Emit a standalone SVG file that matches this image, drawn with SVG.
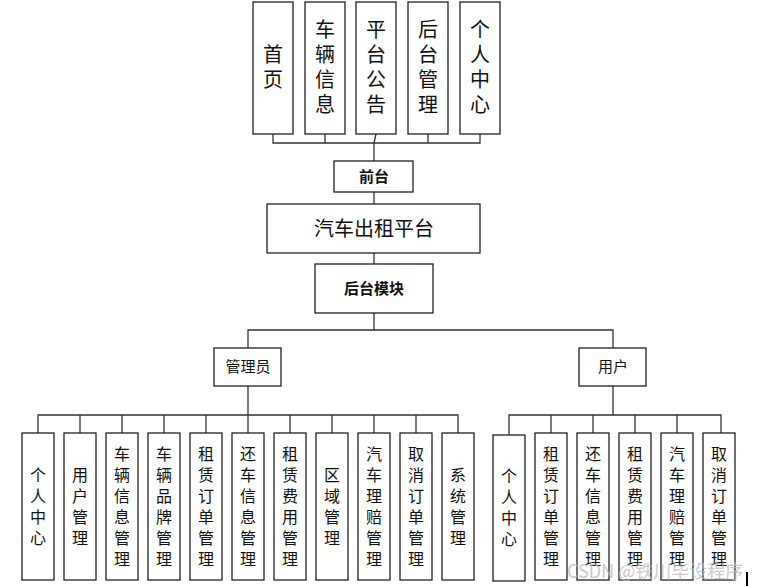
<svg xmlns="http://www.w3.org/2000/svg" width="775" height="586" viewBox="0 0 775 586">
<style>
.b{fill:#fff;stroke:#222;stroke-width:1.3}
.t{font-family:"Noto Sans CJK SC","Liberation Sans",sans-serif;fill:#111;text-anchor:middle}
.v{font-size:20px}
.s{font-size:16px}
.m{font-size:15px}
.c line,.c polyline{stroke:#333;stroke-width:1.3;fill:none}
</style>
<g class="c">
<polyline points="273,134 273,143 480,143 480,134"/>
<line x1="325" y1="134" x2="325" y2="143"/><line x1="376" y1="134" x2="374" y2="143"/><line x1="428" y1="134" x2="428" y2="143"/>
<line x1="374" y1="143" x2="374" y2="161" stroke-width="2"/>
<line x1="374" y1="192" x2="374" y2="204"/>
<line x1="374" y1="253" x2="374" y2="264"/>
<line x1="374" y1="313" x2="374" y2="330"/>
<polyline points="248,348 248,330 613,330 613,348"/>
<line x1="248" y1="386" x2="248" y2="415" stroke-width="2"/>
<polyline points="38,433 38,415 458,415 458,433"/>
<line x1="80" y1="415" x2="80" y2="433"/><line x1="122" y1="415" x2="122" y2="433"/><line x1="164" y1="415" x2="164" y2="433"/><line x1="206" y1="415" x2="206" y2="433"/><line x1="248" y1="415" x2="248" y2="433"/><line x1="290" y1="415" x2="290" y2="433"/><line x1="332" y1="415" x2="332" y2="433"/><line x1="374" y1="415" x2="374" y2="433"/><line x1="416" y1="415" x2="416" y2="433"/>
<line x1="613" y1="386" x2="613" y2="415" stroke-width="2"/>
<polyline points="509,435 509,415 721,415 721,433"/>
<line x1="551" y1="415" x2="551" y2="433"/><line x1="593" y1="415" x2="593" y2="433"/><line x1="635" y1="415" x2="635" y2="433"/><line x1="677" y1="415" x2="677" y2="433"/>
</g>
<g id="n-home"><rect class="b" x="253" y="2" width="40" height="132"/><text class="t v" x="273" y="62">首</text><text class="t v" x="273" y="87">页</text></g>
<g id="n-car"><rect class="b" x="305" y="2" width="40" height="132"/><text class="t v" x="325" y="37">车</text><text class="t v" x="325" y="62">辆</text><text class="t v" x="325" y="87">信</text><text class="t v" x="325" y="112">息</text></g>
<g id="n-notice"><rect class="b" x="356" y="2" width="40" height="132"/><text class="t v" x="376" y="37">平</text><text class="t v" x="376" y="62">台</text><text class="t v" x="376" y="87">公</text><text class="t v" x="376" y="112">告</text></g>
<g id="n-admin"><rect class="b" x="408" y="2" width="40" height="132"/><text class="t v" x="428" y="37">后</text><text class="t v" x="428" y="62">台</text><text class="t v" x="428" y="87">管</text><text class="t v" x="428" y="112">理</text></g>
<g id="n-center"><rect class="b" x="460" y="2" width="40" height="132"/><text class="t v" x="480" y="37">个</text><text class="t v" x="480" y="62">人</text><text class="t v" x="480" y="87">中</text><text class="t v" x="480" y="112">心</text></g>
<g id="n-front"><rect class="b" x="334" y="161" width="79" height="31"/><text class="t m" x="374" y="182" font-weight="bold">前台</text></g>
<g id="n-platform"><rect class="b" x="267" y="204" width="213" height="49"/><text class="t v" x="374" y="236">汽车出租平台</text></g>
<g id="n-backend"><rect class="b" x="315" y="264" width="118" height="49"/><text class="t m" x="374" y="294" font-weight="bold">后台模块</text></g>
<g id="n-mgr"><rect class="b" x="214" y="348" width="67" height="38"/><text class="t m" x="248" y="372">管理员</text></g>
<g id="n-user"><rect class="b" x="579" y="348" width="67" height="38"/><text class="t m" x="613" y="372">用户</text></g>
<g id="a1"><rect class="b" x="22" y="433" width="32" height="147"/><text class="t s" x="38" y="481">个</text><text class="t s" x="38" y="502">人</text><text class="t s" x="38" y="523">中</text><text class="t s" x="38" y="544">心</text></g>
<g id="a2"><rect class="b" x="64" y="433" width="32" height="147"/><text class="t s" x="80" y="481">用</text><text class="t s" x="80" y="502">户</text><text class="t s" x="80" y="523">管</text><text class="t s" x="80" y="544">理</text></g>
<g id="a3"><rect class="b" x="106" y="433" width="32" height="147"/><text class="t s" x="122" y="460">车</text><text class="t s" x="122" y="481">辆</text><text class="t s" x="122" y="502">信</text><text class="t s" x="122" y="523">息</text><text class="t s" x="122" y="544">管</text><text class="t s" x="122" y="565">理</text></g>
<g id="a4"><rect class="b" x="148" y="433" width="32" height="147"/><text class="t s" x="164" y="460">车</text><text class="t s" x="164" y="481">辆</text><text class="t s" x="164" y="502">品</text><text class="t s" x="164" y="523">牌</text><text class="t s" x="164" y="544">管</text><text class="t s" x="164" y="565">理</text></g>
<g id="a5"><rect class="b" x="190" y="433" width="32" height="147"/><text class="t s" x="206" y="460">租</text><text class="t s" x="206" y="481">赁</text><text class="t s" x="206" y="502">订</text><text class="t s" x="206" y="523">单</text><text class="t s" x="206" y="544">管</text><text class="t s" x="206" y="565">理</text></g>
<g id="a6"><rect class="b" x="232" y="433" width="32" height="147"/><text class="t s" x="248" y="460">还</text><text class="t s" x="248" y="481">车</text><text class="t s" x="248" y="502">信</text><text class="t s" x="248" y="523">息</text><text class="t s" x="248" y="544">管</text><text class="t s" x="248" y="565">理</text></g>
<g id="a7"><rect class="b" x="274" y="433" width="32" height="147"/><text class="t s" x="290" y="460">租</text><text class="t s" x="290" y="481">赁</text><text class="t s" x="290" y="502">费</text><text class="t s" x="290" y="523">用</text><text class="t s" x="290" y="544">管</text><text class="t s" x="290" y="565">理</text></g>
<g id="a8"><rect class="b" x="316" y="433" width="32" height="147"/><text class="t s" x="332" y="481">区</text><text class="t s" x="332" y="502">域</text><text class="t s" x="332" y="523">管</text><text class="t s" x="332" y="544">理</text></g>
<g id="a9"><rect class="b" x="358" y="433" width="32" height="147"/><text class="t s" x="374" y="460">汽</text><text class="t s" x="374" y="481">车</text><text class="t s" x="374" y="502">理</text><text class="t s" x="374" y="523">赔</text><text class="t s" x="374" y="544">管</text><text class="t s" x="374" y="565">理</text></g>
<g id="a10"><rect class="b" x="400" y="433" width="32" height="147"/><text class="t s" x="416" y="460">取</text><text class="t s" x="416" y="481">消</text><text class="t s" x="416" y="502">订</text><text class="t s" x="416" y="523">单</text><text class="t s" x="416" y="544">管</text><text class="t s" x="416" y="565">理</text></g>
<g id="a11"><rect class="b" x="442" y="433" width="32" height="147"/><text class="t s" x="458" y="481">系</text><text class="t s" x="458" y="502">统</text><text class="t s" x="458" y="523">管</text><text class="t s" x="458" y="544">理</text></g>
<g id="u1"><rect class="b" x="493" y="435" width="32" height="146"/><text class="t s" x="509" y="482">个</text><text class="t s" x="509" y="503">人</text><text class="t s" x="509" y="524">中</text><text class="t s" x="509" y="545">心</text></g>
<g id="u2"><rect class="b" x="535" y="433" width="32" height="147"/><text class="t s" x="551" y="460">租</text><text class="t s" x="551" y="481">赁</text><text class="t s" x="551" y="502">订</text><text class="t s" x="551" y="523">单</text><text class="t s" x="551" y="544">管</text><text class="t s" x="551" y="565">理</text></g>
<g id="u3"><rect class="b" x="577" y="433" width="32" height="147"/><text class="t s" x="593" y="460">还</text><text class="t s" x="593" y="481">车</text><text class="t s" x="593" y="502">信</text><text class="t s" x="593" y="523">息</text><text class="t s" x="593" y="544">管</text><text class="t s" x="593" y="565">理</text></g>
<g id="u4"><rect class="b" x="619" y="433" width="32" height="147"/><text class="t s" x="635" y="460">租</text><text class="t s" x="635" y="481">赁</text><text class="t s" x="635" y="502">费</text><text class="t s" x="635" y="523">用</text><text class="t s" x="635" y="544">管</text><text class="t s" x="635" y="565">理</text></g>
<g id="u5"><rect class="b" x="661" y="433" width="32" height="147"/><text class="t s" x="677" y="460">汽</text><text class="t s" x="677" y="481">车</text><text class="t s" x="677" y="502">理</text><text class="t s" x="677" y="523">赔</text><text class="t s" x="677" y="544">管</text><text class="t s" x="677" y="565">理</text></g>
<g id="u6"><rect class="b" x="703" y="433" width="32" height="147"/><text class="t s" x="719" y="460">取</text><text class="t s" x="719" y="481">消</text><text class="t s" x="719" y="502">订</text><text class="t s" x="719" y="523">单</text><text class="t s" x="719" y="544">管</text><text class="t s" x="719" y="565">理</text></g>
<text x="567" y="578" font-family="Noto Sans CJK SC,Liberation Sans,sans-serif" font-size="18" fill="#bbb" fill-opacity="0.8">CSDN @铁川毕设程序</text>
<line x1="747" y1="572" x2="747" y2="586" stroke="#000" stroke-width="2"/>
</svg>
